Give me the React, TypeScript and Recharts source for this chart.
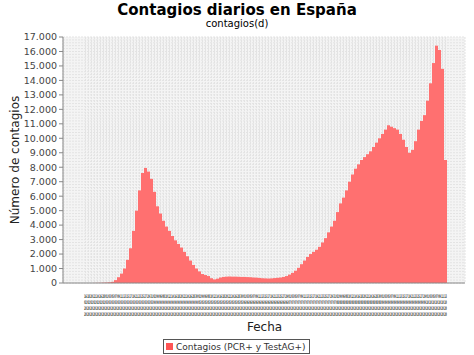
import React from 'react';
import { BarChart, Bar, XAxis, YAxis, CartesianGrid } from 'recharts';

// Fechas (cada dos días) y contagios diarios
const fechas = [
  '16/02/2020', '18/02/2020', '20/02/2020', '22/02/2020', '24/02/2020', '26/02/2020', '28/02/2020',
  '01/03/2020', '03/03/2020', '05/03/2020', '07/03/2020', '09/03/2020', '11/03/2020', '13/03/2020', '15/03/2020',
  '17/03/2020', '19/03/2020', '21/03/2020', '23/03/2020', '25/03/2020', '27/03/2020', '29/03/2020', '31/03/2020',
  '02/04/2020', '04/04/2020', '06/04/2020', '08/04/2020', '10/04/2020', '12/04/2020', '14/04/2020', '16/04/2020',
  '18/04/2020', '20/04/2020', '22/04/2020', '24/04/2020', '26/04/2020', '28/04/2020', '30/04/2020',
  '02/05/2020', '04/05/2020', '06/05/2020', '08/05/2020', '10/05/2020', '12/05/2020', '14/05/2020', '16/05/2020',
  '18/05/2020', '20/05/2020', '22/05/2020', '24/05/2020', '26/05/2020', '28/05/2020', '30/05/2020',
  '01/06/2020', '03/06/2020', '05/06/2020', '07/06/2020', '09/06/2020', '11/06/2020', '13/06/2020', '15/06/2020',
  '17/06/2020', '19/06/2020', '21/06/2020', '23/06/2020', '25/06/2020', '27/06/2020', '29/06/2020',
  '01/07/2020', '03/07/2020', '05/07/2020', '07/07/2020', '09/07/2020', '11/07/2020', '13/07/2020', '15/07/2020',
  '17/07/2020', '19/07/2020', '21/07/2020', '23/07/2020', '25/07/2020', '27/07/2020', '29/07/2020', '31/07/2020',
  '02/08/2020', '04/08/2020', '06/08/2020', '08/08/2020', '10/08/2020', '12/08/2020', '14/08/2020', '16/08/2020',
  '18/08/2020', '20/08/2020', '22/08/2020', '24/08/2020', '26/08/2020', '28/08/2020', '30/08/2020',
  '01/09/2020', '03/09/2020', '05/09/2020', '07/09/2020', '09/09/2020', '11/09/2020', '13/09/2020', '15/09/2020',
  '17/09/2020', '19/09/2020', '21/09/2020', '23/09/2020', '25/09/2020', '27/09/2020', '29/09/2020',
  '01/10/2020', '03/10/2020', '05/10/2020', '07/10/2020', '09/10/2020', '11/10/2020', '13/10/2020',
];

const contagios = [
  0, 0, 0, 5, 10, 15, 25, 35, 50, 80,
  200, 400, 650, 1000, 1600, 2400, 3600, 5000, 6400, 7600,
  7950, 7700, 7200, 6300, 5300, 4800, 4300, 3900, 3600, 3250,
  2950, 2700, 2450, 2150, 1850, 1550, 1250, 1000, 800, 620,
  550, 480, 330, 250, 300, 380, 420, 440, 450, 440,
  440, 430, 420, 420, 410, 400, 380, 370, 350, 330,
  320, 310, 320, 340, 360, 380, 420, 480, 580, 700,
  850, 1050, 1300, 1550, 1800, 2000, 2150, 2300, 2500, 2800,
  3100, 3500, 3900, 4300, 4900, 5500, 5900, 6400, 7000, 7500,
  7900, 8200, 8500, 8700, 8900, 9100, 9400, 9700, 10000, 10300,
  10600, 10900, 10800, 10700, 10600, 10300, 9900, 9400, 9000, 9200,
  9800, 10600, 11200, 11600, 12600, 13800, 15200, 16400, 16100, 14800,
  8500,
];

const ticksY = [
  0, 1000, 2000, 3000, 4000, 5000, 6000, 7000, 8000, 9000,
  10000, 11000, 12000, 13000, 14000, 15000, 16000, 17000,
];

const data = fechas.map((fecha, i) => ({ fecha, contagios: contagios[i] }));

// líneas de rejilla finas cada 200
const rejilla: number[] = [];
for (let v = 0; v <= 17000; v += 200) rejilla.push(v);

const FONT = '"DejaVu Sans", Verdana, sans-serif';
const W = 474;
const H = 355;

function miles(v: number) {
  return String(v).replace(/\B(?=(\d{3})+(?!\d))/g, '.');
}

// etiqueta de fecha partida en 4 líneas y comprimida al ancho de la categoría
function TickFecha(props: any) {
  const { x, y, payload } = props;
  const f = String(payload.value);
  const [d, m, a] = f.split('/');
  const lineas = [d, m, a.slice(0, 2), a.slice(2)];
  return (
    <g transform={`translate(${x},${y})`}>
      {lineas.map((l, k) => (
        <g key={k} transform={`translate(0,${7 + k * 6}) scale(0.36,1)`}>
          <text
            x={0}
            y={0}
            textAnchor="middle"
            fontSize={4.9}
            fontWeight="bold"
            fontFamily={FONT}
            fill="#111"
          >
            {l}
          </text>
        </g>
      ))}
    </g>
  );
}

export default function App() {
  return (
    <div style={{ position: 'relative', width: W, height: H, background: '#fff' }}>
      <style>{'body{margin:0}'}</style>
      <BarChart
        width={W}
        height={H}
        data={data}
        barCategoryGap={0}
        margin={{ top: 37, right: 9, bottom: 0, left: 0 }}
      >
        <CartesianGrid
          fill="#f4f4f4"
          stroke="#e3e3e3"
          strokeDasharray="2 1"
          horizontalValues={rejilla}
          vertical={true}
        />
        <XAxis
          dataKey="fecha"
          height={72}
          interval={0}
          padding={{ left: 21, right: 18 }}
          tickLine={false}
          tickMargin={2}
          axisLine={{ stroke: '#888' }}
          tick={<TickFecha />}
        />
        <XAxis
          xAxisId="arriba"
          dataKey="fecha"
          orientation="top"
          height={0}
          tick={false}
          tickLine={false}
          axisLine={{ stroke: '#888' }}
        />
        <YAxis
          width={63}
          domain={[0, 17000]}
          ticks={ticksY}
          interval={0}
          tickFormatter={miles}
          tickSize={4}
          tickMargin={2}
          axisLine={{ stroke: '#888' }}
          tickLine={{ stroke: '#888' }}
          tick={{ fill: '#444', fontSize: 9.5, fontFamily: FONT }}
        />
        <YAxis
          yAxisId="derecha"
          orientation="right"
          width={0}
          domain={[0, 17000]}
          tick={false}
          tickLine={false}
          axisLine={{ stroke: '#888' }}
        />
        <Bar
          dataKey="contagios"
          fill="#ff7070"
          isAnimationActive={false}
        />
      </BarChart>
      <svg
        width={W}
        height={H}
        style={{ position: 'absolute', left: 0, top: 0, pointerEvents: 'none' }}
      >
        <text x={237} y={15} textAnchor="middle" fontSize={15} fontWeight="bold" fontFamily={FONT} fill="#000">
          Contagios diarios en España
        </text>
        <text x={237} y={27} textAnchor="middle" fontSize={10} fontFamily={FONT} fill="#000">
          contagios(d)
        </text>
        <text
          x={18.5}
          y={160}
          transform="rotate(-90 18.5 160)"
          textAnchor="middle"
          fontSize={12}
          fontFamily={FONT}
          fill="#222"
        >
          Número de contagios
        </text>
        <text x={264.5} y={331} textAnchor="middle" fontSize={12} fontFamily={FONT} fill="#222">
          Fecha
        </text>
        <rect x={163.5} y={339.5} width={146} height={14} fill="#fff" stroke="#555" />
        <rect x={166} y={343} width={7} height={7} fill="#ff5555" />
        <text x={176} y={350} fontSize={9} fontFamily={FONT} fill="#333">
          Contagios (PCR+ y TestAG+)
        </text>
      </svg>
    </div>
  );
}
